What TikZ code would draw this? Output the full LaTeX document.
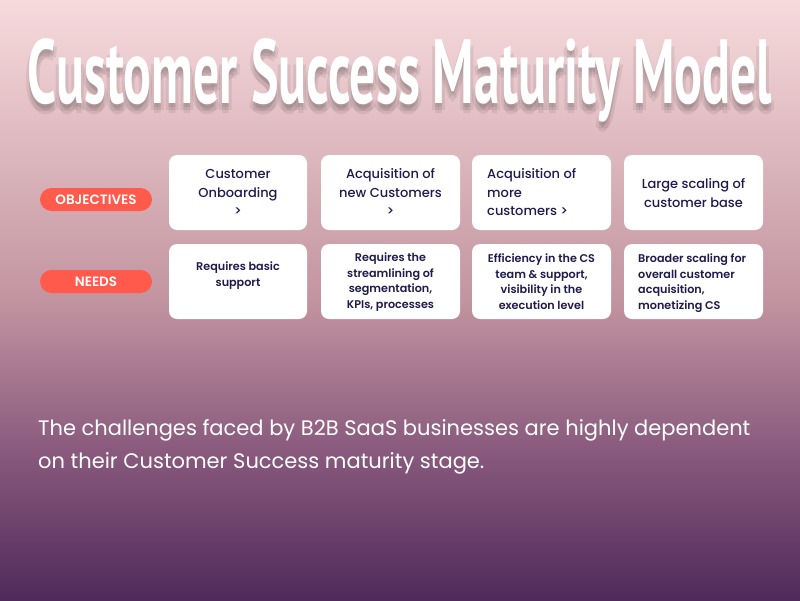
\documentclass[tikz,border=0pt]{standalone}
\usepackage{fontspec}
\setmainfont{Poppins}
\newfontfamily\popmed{Poppins Medium}
\newfontfamily\popsemi{Poppins SemiBold}
\newfontfamily\titlefont[FakeStretch=0.57]{PT Sans Bold}
\definecolor{cTop}{HTML}{F6DADC}
\definecolor{cMid}{HTML}{DDB8BE}
\definecolor{cMid2}{HTML}{C294A0}
\definecolor{cLow}{HTML}{8A5A7E}
\definecolor{cBot}{HTML}{4F2A5A}
\definecolor{pill}{HTML}{FF5A4B}
\definecolor{ink}{HTML}{1F1B4D}
\pgfdeclareverticalshading{bgshade}{100bp}{color(0bp)=(cBot); color(25bp)=(cBot); color(37.5bp)=(cLow); color(50bp)=(cMid2); color(62.5bp)=(cMid); color(75bp)=(cTop); color(100bp)=(cTop)}
\tikzset{
  card/.style={fill=white, rounded corners=8pt, draw=none},
  pilltag/.style={fill=pill, rounded corners=11.5pt, draw=none, minimum width=112pt, minimum height=23pt, inner sep=0pt, text=white, font=\popsemi\fontsize{13.5}{13.5}\selectfont},
  objtxt/.style={text=ink, font=\popmed\fontsize{13}{18.5}\selectfont},
  needtxt/.style={text=ink, font=\popsemi\fontsize{11.2}{15.8}\selectfont},
  titletxt/.style={font=\titlefont\fontsize{91}{96}\selectfont, anchor=base},
}
\begin{document}
\begin{tikzpicture}[x=1pt,y=-1pt]
\useasboundingbox (0,0) rectangle (800,600);
\shade[shading=bgshade] (0,600) rectangle (800,0);
% title shadow
\foreach \dx/\dy in {0/4,3/7,-3/7,0/10}{
  \node[titletxt, text=black, opacity=0.07] at (400+\dx,103+\dy) {Customer Success Maturity Model};
}
\node (title) [titletxt, text=white] at (400,103) {Customer Success Maturity Model};
% pills
\node (obj) [pilltag] at (96,199.5) {OBJECTIVES};
\node (need) [pilltag] at (96,281.5) {NEEDS};
% cards
\path[card] (169,155) rectangle (307,230);
\path[card] (321,155) rectangle (460,230);
\path[card] (472,155) rectangle (611,230);
\path[card] (624,155) rectangle (763,230);
\path[card] (169,244) rectangle (307,319);
\path[card] (321,244) rectangle (460,319);
\path[card] (472,244) rectangle (611,319);
\path[card] (624,244) rectangle (763,319);
% objective texts
\node (o1) [objtxt, align=center, anchor=north] at (238,166) {Customer\\Onboarding\\>};
\node (o2) [objtxt, align=center, anchor=north] at (390.5,165) {Acquisition of\\new Customers\\>};
\node (o3) [objtxt, align=left, anchor=north west, inner xsep=0pt] at (487,165) {Acquisition of\\more\\customers >};
\node (o4) [objtxt, align=center, anchor=north] at (693.5,175) {Large scaling of\\customer base};
% need texts
\node (n1) [needtxt, align=center, anchor=north] at (238,258) {Requires basic\\support};
\node (n2) [needtxt, align=center, anchor=north] at (390.5,249) {Requires the\\streamlining of\\segmentation,\\KPIs, processes};
\node (n3) [needtxt, align=center, anchor=north] at (541.5,250) {Efficiency in the CS\\team \& support,\\visibility in the\\execution level};
\node (n4) [needtxt, align=left, anchor=north west, inner xsep=0pt] at (638,250) {Broader scaling for\\overall customer\\acquisition,\\monetizing CS};
% bottom text
\node (foot) [text=white, font=\fontsize{21}{33}\selectfont, align=left, anchor=north west, inner xsep=0pt] at (38,416) {The challenges faced by B2B SaaS businesses are highly dependent\\on their Customer Success maturity stage.};
\end{tikzpicture}
\end{document}
